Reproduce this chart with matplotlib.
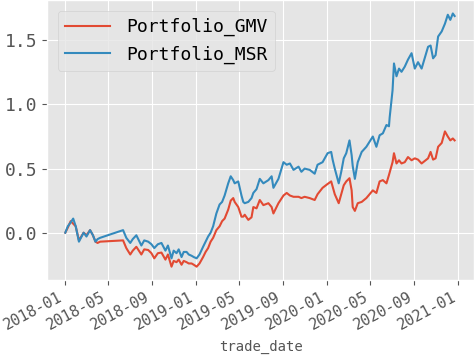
import matplotlib
matplotlib.use("Agg")
import matplotlib.pyplot as plt
import matplotlib.dates as mdates
import pandas as pd

trade_dates = [
    "2018-01-02", "2018-01-09", "2018-01-17", "2018-01-24", "2018-01-31", "2018-02-09",
    "2018-02-22", "2018-03-02", "2018-03-12", "2018-03-20", "2018-03-27", "2018-04-02",
    "2018-04-09", "2018-06-12", "2018-06-21", "2018-07-02", "2018-07-09", "2018-07-19",
    "2018-08-02", "2018-08-10", "2018-08-21", "2018-08-30", "2018-09-07", "2018-09-17",
    "2018-09-27", "2018-10-08", "2018-10-15", "2018-10-25", "2018-10-31", "2018-11-08",
    "2018-11-14", "2018-11-22", "2018-11-28", "2018-12-06", "2018-12-12", "2018-12-20",
    "2018-12-26", "2019-01-03", "2019-01-11", "2019-01-21", "2019-01-28", "2019-02-04",
    "2019-02-11", "2019-02-18", "2019-02-27", "2019-03-08", "2019-03-15", "2019-03-22",
    "2019-04-01", "2019-04-08", "2019-04-15", "2019-04-19", "2019-04-29", "2019-05-08",
    "2019-05-13", "2019-05-17", "2019-05-27", "2019-06-05", "2019-06-10", "2019-06-19",
    "2019-06-28", "2019-07-08", "2019-07-22", "2019-07-31", "2019-08-05", "2019-08-19",
    "2019-09-02", "2019-09-11", "2019-09-20", "2019-09-30", "2019-10-14", "2019-10-22",
    "2019-10-31", "2019-11-14", "2019-11-28", "2019-12-06", "2019-12-20", "2020-01-03",
    "2020-01-13", "2020-01-17", "2020-01-23", "2020-02-03", "2020-02-10", "2020-02-17",
    "2020-02-24", "2020-03-04", "2020-03-10", "2020-03-13", "2020-03-19", "2020-03-27",
    "2020-04-07", "2020-04-20", "2020-04-29", "2020-05-08", "2020-05-18", "2020-05-27",
    "2020-06-05", "2020-06-15", "2020-06-22", "2020-06-24", "2020-07-02", "2020-07-06",
    "2020-07-13", "2020-07-20", "2020-07-27", "2020-08-05", "2020-08-14", "2020-08-24",
    "2020-09-02", "2020-09-11", "2020-09-21", "2020-10-09", "2020-10-16", "2020-10-23",
    "2020-10-30", "2020-11-06", "2020-11-16", "2020-11-25", "2020-12-03", "2020-12-10",
    "2020-12-17", "2020-12-22",
]

portfolio_msr = [
    0.00, 0.05, 0.08, 0.11, 0.05, -0.07,
    0.00, -0.03, 0.02, -0.02, -0.07, -0.05,
    -0.04, 0.02, -0.04, -0.08, -0.05, -0.02,
    -0.10, -0.06, -0.07, -0.09, -0.12, -0.09,
    -0.08, -0.14, -0.10, -0.20, -0.14, -0.16,
    -0.13, -0.19, -0.15, -0.15, -0.17, -0.18,
    -0.19, -0.20, -0.17, -0.11, -0.07, -0.03,
    0.00, 0.05, 0.15, 0.22, 0.24, 0.29,
    0.385, 0.44, 0.41, 0.385, 0.40, 0.29,
    0.24, 0.23, 0.24, 0.27, 0.31, 0.34,
    0.42, 0.385, 0.41, 0.44, 0.35, 0.42,
    0.55, 0.53, 0.54, 0.49, 0.515, 0.475,
    0.50, 0.49, 0.46, 0.53, 0.55, 0.62,
    0.63, 0.57, 0.50, 0.385, 0.475, 0.58,
    0.62, 0.72, 0.605, 0.52, 0.42, 0.55,
    0.63, 0.67, 0.71, 0.75, 0.67, 0.76,
    0.775, 0.84, 0.83, 0.90, 1.11, 1.32,
    1.22, 1.28, 1.255, 1.295, 1.35, 1.40,
    1.28, 1.33, 1.28, 1.45, 1.46, 1.36,
    1.385, 1.53, 1.57, 1.63, 1.70, 1.66,
    1.71, 1.69,
]

portfolio_gmv = [
    0.00, 0.04, 0.09, 0.07, 0.05, -0.06,
    0.00, -0.02, 0.02, -0.02, -0.07, -0.08,
    -0.07, -0.06, -0.12, -0.17, -0.14, -0.11,
    -0.17, -0.13, -0.135, -0.16, -0.20, -0.16,
    -0.155, -0.21, -0.17, -0.265, -0.22, -0.23,
    -0.21, -0.25, -0.22, -0.23, -0.24, -0.24,
    -0.25, -0.265, -0.24, -0.19, -0.15, -0.12,
    -0.07, -0.04, 0.02, 0.05, 0.09, 0.11,
    0.18, 0.25, 0.27, 0.24, 0.20, 0.125,
    0.125, 0.14, 0.10, 0.12, 0.20, 0.19,
    0.255, 0.215, 0.23, 0.20, 0.15, 0.23,
    0.29, 0.31, 0.29, 0.28, 0.28, 0.27,
    0.28, 0.27, 0.255, 0.30, 0.35, 0.38,
    0.40, 0.36, 0.30, 0.23, 0.30, 0.37,
    0.40, 0.425, 0.33, 0.20, 0.17, 0.23,
    0.24, 0.27, 0.30, 0.33, 0.31, 0.40,
    0.41, 0.385, 0.45, 0.47, 0.55, 0.62,
    0.54, 0.565, 0.54, 0.55, 0.59, 0.565,
    0.58, 0.57, 0.54, 0.58, 0.63, 0.57,
    0.58, 0.67, 0.70, 0.79, 0.75, 0.72,
    0.735, 0.72,
]

plt.style.use("ggplot")
plt.rcParams["font.family"] = ["DejaVu Sans Mono"]

df = pd.DataFrame(
    {"Portfolio_GMV": portfolio_gmv, "Portfolio_MSR": portfolio_msr},
    index=pd.to_datetime(trade_dates),
)

fig = plt.figure(figsize=(4.74, 3.56), dpi=100)
ax = fig.add_axes([47 / 474, 76 / 356, 427 / 474, 280 / 356])

ax.plot(df.index, df["Portfolio_GMV"], color="#E24A33", lw=1.5, label="Portfolio_GMV")
ax.plot(df.index, df["Portfolio_MSR"], color="#348ABD", lw=1.5, label="Portfolio_MSR")

ax.set_xlim(pd.Timestamp("2017-11-12"), pd.Timestamp("2021-02-14"))
ax.set_ylim(-0.369, 1.815)
ax.set_yticks([0.0, 0.5, 1.0, 1.5])
ax.yaxis.set_major_formatter(matplotlib.ticker.FormatStrFormatter("%.1f"))
ax.xaxis.set_major_locator(mdates.MonthLocator(bymonth=[1, 5, 9]))
ax.xaxis.set_major_formatter(mdates.DateFormatter("%Y-%m"))
ax.tick_params(axis="y", labelsize=13)
ax.tick_params(axis="x", labelsize=11)
for lbl in ax.get_xticklabels():
    lbl.set_rotation(28)
    lbl.set_ha("right")
ax.set_xlabel("trade_date", fontsize=10, color="#555555")
ax.xaxis.set_label_coords(0.5, -0.214)
ax.xaxis.label.set_va("top")

ax.legend(loc="upper left", fontsize=13, handlelength=2.5, handletextpad=0.9,
          borderaxespad=0.6)

fig.savefig("out.png", dpi=100)
